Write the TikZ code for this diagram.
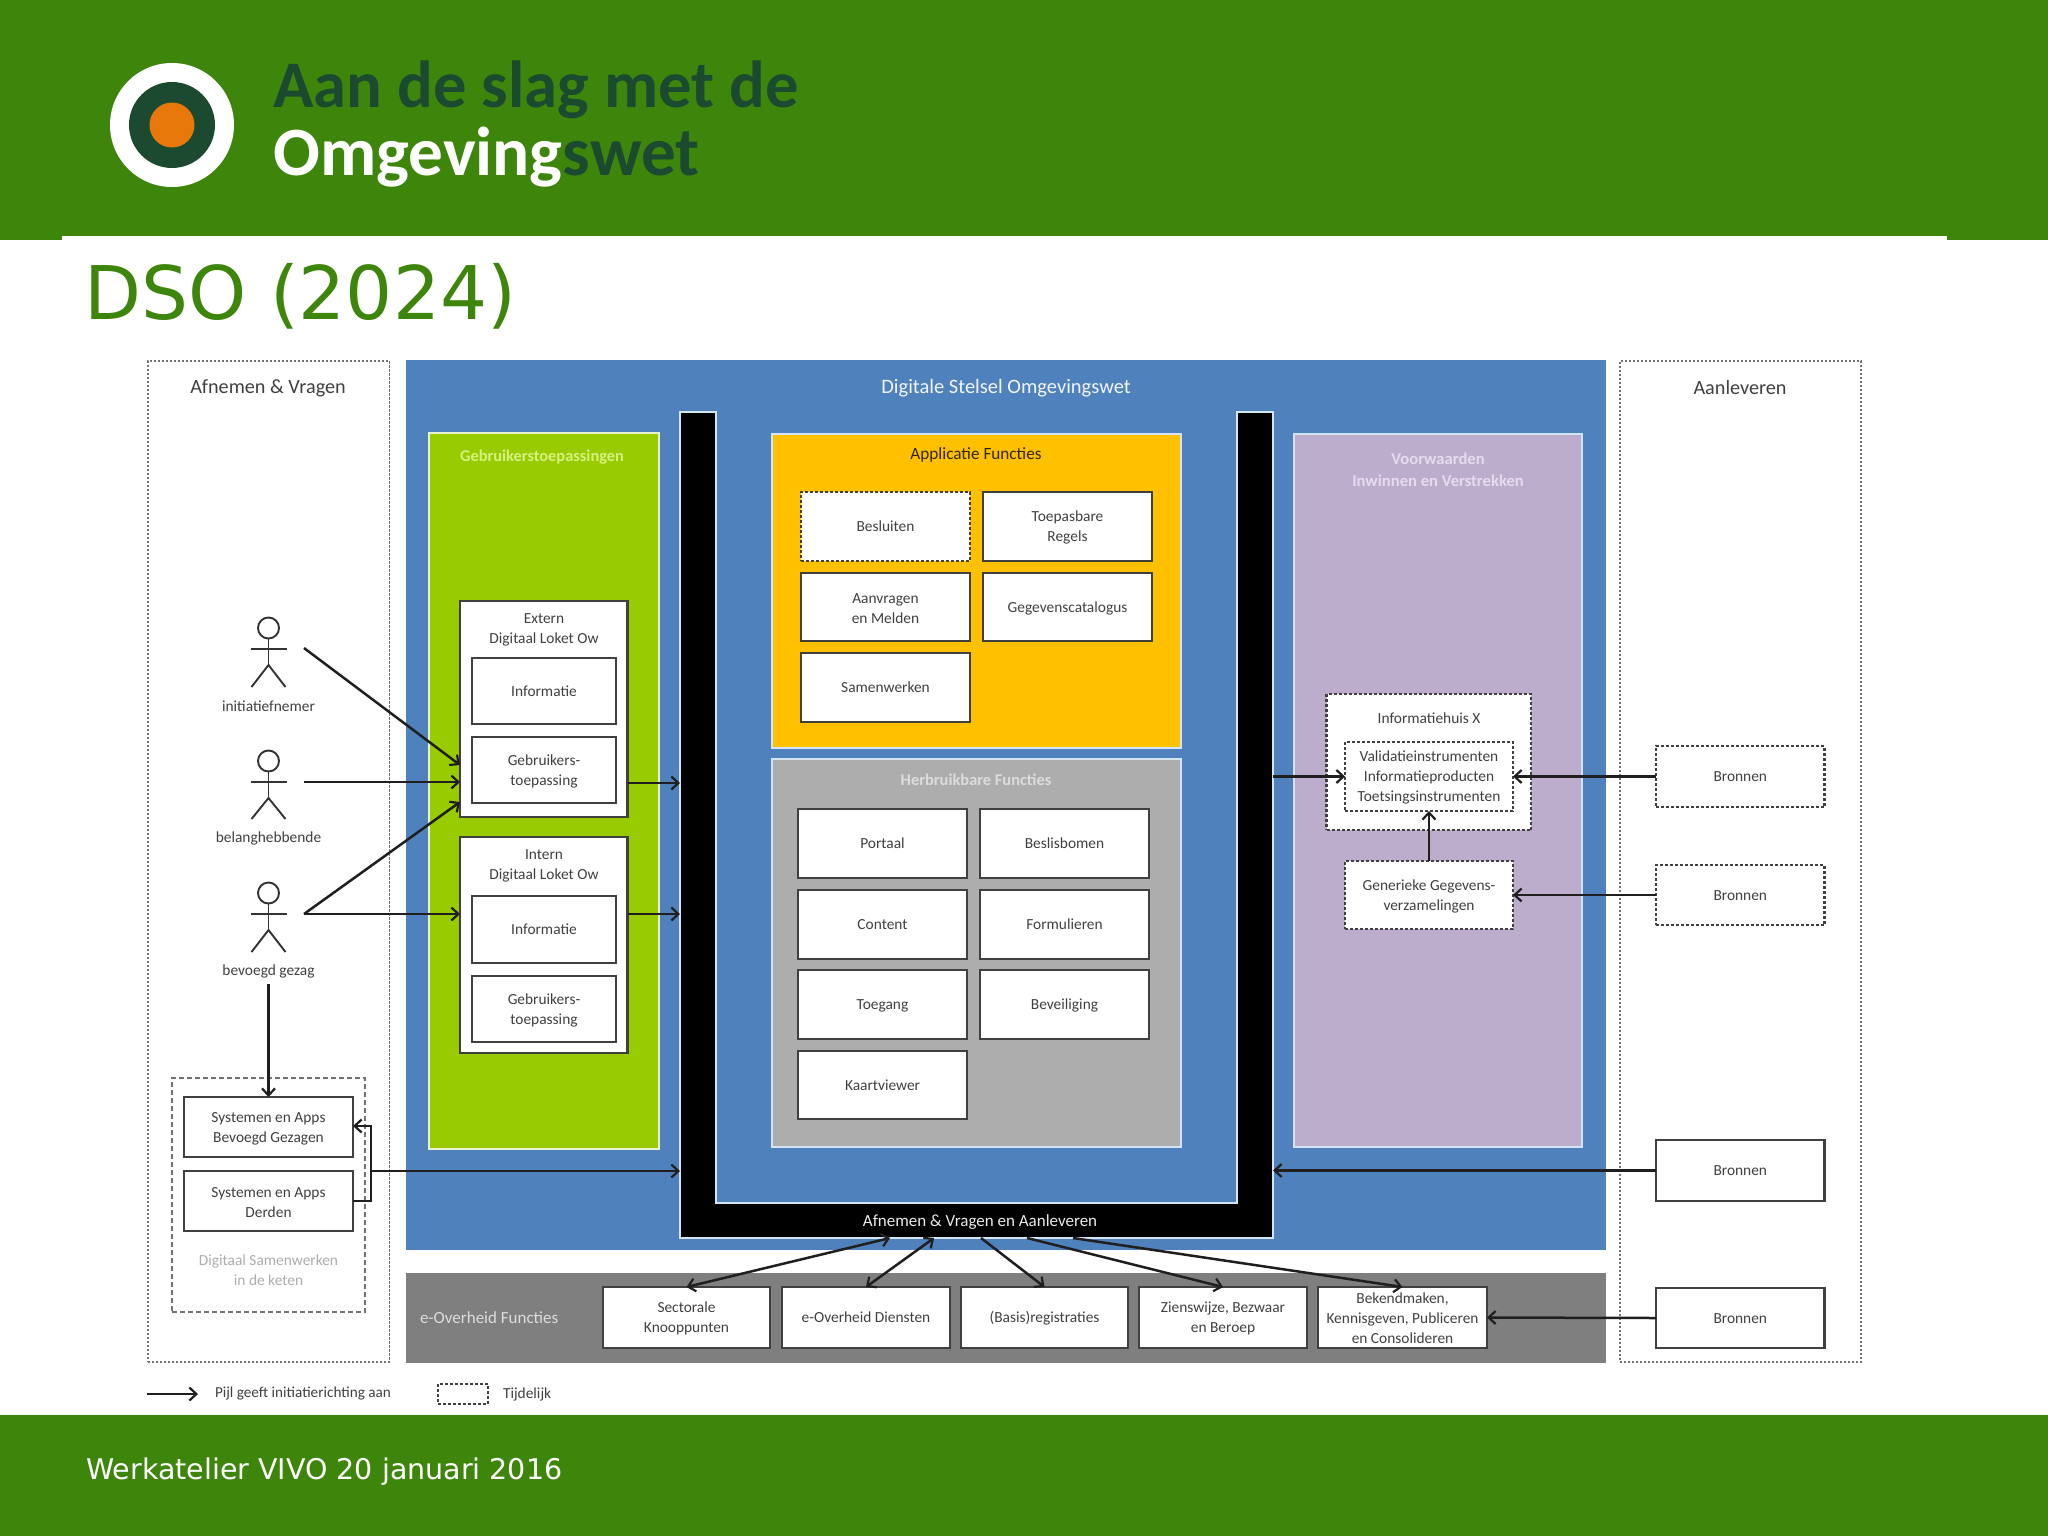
\documentclass[tikz,border=0pt]{standalone}
\usepackage{fontspec}
\setmainfont{Carlito}
\newfontfamily\dejafont{DejaVu Sans}
\usetikzlibrary{arrows.meta,calc}
\definecolor{hdrgreen}{HTML}{3D860B}
\definecolor{logodark}{HTML}{1C4A30}
\definecolor{logoorange}{HTML}{E8780A}
\definecolor{mainblue}{HTML}{4F81BD}
\definecolor{appgreen}{HTML}{99CC00}
\definecolor{appyellow}{HTML}{FFC000}
\definecolor{reusegrey}{HTML}{ADADAD}
\definecolor{lilac}{HTML}{BDADCD}
\definecolor{bandgrey}{HTML}{7F7F7F}
\definecolor{inkgrey}{HTML}{404040}
\definecolor{edgeblue}{HTML}{D2E4F6}
\definecolor{palegreen}{HTML}{D8F080}
\definecolor{palelilac}{HTML}{E4DCEE}
\definecolor{palegrey}{HTML}{DCDCDC}
\newcommand{\bx}[7]{\node[basebox,#6,minimum width={(#4-#2)*0.5pt},minimum height={(#5-#3)*0.5pt}] (#1) at ({(#2+#4)/2},{(#3+#5)/2}) {\rule[-1.5pt]{0pt}{8pt}#7};}
\newcommand{\actor}[5]{%
 \draw[stick] (#1,#2) circle (10.5);
 \draw[stick] (#1,#2+10.5) -- (#1,#4);
 \draw[stick] (#1-18,#3) -- (#1+18,#3);
 \draw[stick] (#1-17,#5) -- (#1,#4) -- (#1+17,#5);}
\tikzset{
 x=0.5pt,y=-0.5pt,
 basebox/.style={rectangle,inner sep=0pt,outer sep=0pt,align=center,font=\fontsize{7.7}{10}\selectfont,text=inkgrey},
 solidbox/.style={fill=white,draw=inkgrey,line width=1.25pt},
 tempbox/.style={fill=white,draw=inkgrey,line width=1.1pt,dash pattern=on 1.5pt off 1pt},
 sidepanel/.style={fill=white,draw=black!55,line width=0.8pt,dash pattern=on 1.2pt off 0.8pt},
 panel/.style={draw=edgeblue,line width=1.2pt},
 lbl/.style={inner sep=0pt,outer sep=0pt,align=center,font=\fontsize{7.7}{10}\selectfont,text=inkgrey},
 headlbl/.style={inner sep=0pt,outer sep=0pt,align=center,font=\fontsize{10.1}{12}\selectfont,text=inkgrey},
 flow/.style={draw=black!88,line width=1.25pt,-{Straight Barb[length=3.5pt,width=6.5pt,line width=1.1pt]}},
 flowboth/.style={draw=black!88,line width=1.25pt,{Straight Barb[length=3.5pt,width=6.5pt,line width=1.1pt]}-{Straight Barb[length=3.5pt,width=6.5pt,line width=1.1pt]}},
 stick/.style={draw=black!80,line width=0.95pt},
}
\begin{document}
\begin{tikzpicture}
\useasboundingbox (0,0) rectangle (2048,1536);
% header and footer
\fill[hdrgreen] (0,0) rectangle (2048,240);
\fill[white] (62,236) rectangle (1947,241);
\fill[hdrgreen] (0,1415) rectangle (2048,1536);
\fill[white] (172,125) circle (62);
\fill[logodark] (172,125) circle (43);
\fill[logoorange] (172,125) circle (22.5);
\node[anchor=base west,inner sep=0pt,text=logodark,font=\fontsize{33.3}{34}\bfseries\selectfont] (logoa) at (273,107) {Aan de slag met de};
\node[anchor=base west,inner sep=0pt,text=white,font=\fontsize{34.6}{35}\bfseries\selectfont] (logob) at (273,175) {Omgeving\textcolor{logodark}{swet}};
\node[anchor=base west,inner sep=0pt,text=hdrgreen,font=\dejafont\fontsize{37}{40}\selectfont] (title) at (84,319) {DSO (2024)};
\node[anchor=base west,inner sep=0pt,text=white,font=\dejafont\fontsize{14.25}{18}\selectfont] (footer) at (86,1479) {Werkatelier VIVO 20 januari 2016};

% side panels
\bx{afn}{148}{361}{389.5}{1362}{sidepanel}{}
\bx{aan}{1620}{361}{1861}{1362}{sidepanel}{}
\node[headlbl] (afnt) at (268,388) {Afnemen \& Vragen};
\node[headlbl] (aant) at (1740,388) {Aanleveren};

% blue platform
\bx{dso}{406}{360}{1606}{1250}{fill=mainblue}{}
\node[headlbl,text=white!92!mainblue,font=\fontsize{10.25}{12}\selectfont] (dsot) at (1006,388) {Digitale Stelsel Omgevingswet};

% black U band
\draw[edgeblue,line width=1pt,fill=black] (680,412) -- (716,412) -- (716,1203) -- (1237,1203) -- (1237,412) -- (1273,412) -- (1273,1238) -- (680,1238) -- cycle;
\node[inner sep=0pt,outer sep=0pt,minimum width=18pt,minimum height=413pt] (bandl) at (698,825) {};
\node[inner sep=0pt,outer sep=0pt,minimum width=18pt,minimum height=413pt] (bandr) at (1255,825) {};
\node[inner sep=0pt,outer sep=0pt,minimum width=296.5pt,minimum height=17.5pt] (bandb) at (976.5,1220.5) {};
\node[inner sep=0pt,outer sep=0pt,text=white!92!black,font=\fontsize{8.5}{10}\selectfont] (bandt) at (980,1222) {Afnemen \& Vragen en Aanleveren};

% green column
\bx{gbt}{429}{433}{659}{1149}{panel,draw=white!80!appgreen,fill=appgreen}{}
\node[lbl,text=palegreen,font=\bfseries\fontsize{8.2}{10}\selectfont] (gbtt) at (542,457) {Gebruikerstoepassingen};
\bx{ext}{460}{601}{627.5}{817}{solidbox}{}
\node[lbl] (extt) at (544,630) {Extern\\Digitaal Loket Ow};
\bx{info1}{472}{658}{616}{724}{solidbox}{Informatie}
\bx{geb1}{472}{737}{616}{803}{solidbox}{Gebruikers-\\toepassing}
\bx{int}{460}{837}{627.5}{1053}{solidbox}{}
\node[lbl] (intt) at (544,866) {Intern\\Digitaal Loket Ow};
\bx{info2}{472}{896}{616}{963}{solidbox}{Informatie}
\bx{geb2}{472}{976}{616}{1042}{solidbox}{Gebruikers-\\toepassing}

% applicatie functies
\bx{app}{772}{434}{1181}{748}{panel,fill=appyellow}{}
\node[lbl,text=black!80!appyellow,font=\fontsize{8.6}{10}\selectfont] (appt) at (976,455) {Applicatie Functies};
\bx{besl}{801}{492}{970}{561}{tempbox}{Besluiten}
\bx{toep}{983}{492}{1152}{561}{solidbox}{Toepasbare\\Regels}
\bx{aanv}{801}{573}{970}{641}{solidbox}{Aanvragen\\en Melden}
\bx{gcat}{983}{573}{1152}{641}{solidbox}{Gegevenscatalogus}
\bx{samw}{801}{653}{970}{722}{solidbox}{Samenwerken}

% herbruikbare functies
\bx{herb}{772}{759}{1181}{1147}{panel,fill=reusegrey}{}
\node[lbl,text=palegrey,font=\bfseries\fontsize{8.2}{10}\selectfont] (herbt) at (976,780) {Herbruikbare Functies};
\bx{port}{798}{809}{967}{878}{solidbox}{Portaal}
\bx{bbom}{980}{809}{1149}{878}{solidbox}{Beslisbomen}
\bx{cont}{798}{890}{967}{959}{solidbox}{Content}
\bx{form}{980}{890}{1149}{959}{solidbox}{Formulieren}
\bx{toeg}{798}{970}{967}{1039}{solidbox}{Toegang}
\bx{beve}{980}{970}{1149}{1039}{solidbox}{Beveiliging}
\bx{kaart}{798}{1051}{967}{1119}{solidbox}{Kaartviewer}

% voorwaarden
\bx{voor}{1294}{434}{1582}{1147}{panel,fill=lilac}{}
\node[lbl,text=palelilac,font=\bfseries\fontsize{8.3}{11}\selectfont] (voort) at (1438,470) {Voorwaarden\\Inwinnen en Verstrekken};
\bx{ihuis}{1326.5}{694}{1531}{830}{tempbox}{}
\node[lbl] (ihuist) at (1429,718) {Informatiehuis X};
\bx{ihin}{1345}{742}{1513}{811}{tempbox}{Validatieinstrumenten\\Informatieproducten\\Toetsingsinstrumenten}
\bx{gen}{1345}{861}{1513}{929}{tempbox}{Generieke Gegevens-\\verzamelingen}

% e-overheid
\bx{eov}{406}{1273}{1606}{1363}{fill=bandgrey}{}
\node[lbl,text=palegrey,anchor=west,font=\fontsize{8.5}{10}\selectfont] (eovt) at (420,1318) {e-Overheid Functies};
\bx{sect}{603}{1287}{770}{1348}{solidbox}{Sectorale\\Knooppunten}
\bx{edien}{782}{1287}{950}{1348}{solidbox}{e-Overheid Diensten}
\bx{basis}{961}{1287}{1128}{1348}{solidbox}{(Basis)registraties}
\bx{zien}{1139}{1287}{1307}{1348}{solidbox}{Zienswijze, Bezwaar\\en Beroep}
\bx{bek}{1318}{1287}{1487}{1348}{solidbox}{Bekendmaken,\\Kennisgeven, Publiceren\\en Consolideren}

% bronnen
\bx{bron1}{1656}{746}{1824.5}{807}{tempbox}{Bronnen}
\bx{bron2}{1656}{865}{1824.5}{925}{tempbox}{Bronnen}
\bx{bron3}{1656}{1140}{1824.5}{1201}{solidbox}{Bronnen}
\bx{bron4}{1656}{1288}{1824.5}{1348}{solidbox}{Bronnen}

% actors
\actor{268.5}{628}{649}{665}{687}
\node[lbl] (ainit) at (268.5,706) {initiatiefnemer};
\actor{268.5}{761}{782}{798}{819}
\node[lbl] (abel) at (268.5,838) {belanghebbende};
\actor{268.5}{893}{914}{930}{952}
\node[lbl] (abev) at (268.5,971) {bevoegd gezag};

% digitaal samenwerken
\bx{dsam}{172}{1078}{365}{1312}{draw=black!55,line width=1pt,dash pattern=on 2.5pt off 1.5pt,fill=white}{}
\bx{sys1}{184}{1097}{353}{1157}{solidbox}{Systemen en Apps\\Bevoegd Gezagen}
\bx{sys2}{184}{1171}{353}{1231}{solidbox}{Systemen en Apps\\Derden}
\node[lbl,text=black!32] (dsamt) at (268.5,1270) {Digitaal Samenwerken\\in de keten};

% connectors: actors to loket
\coordinate (fromi) at (304,648);
\coordinate (fromb) at (304,782);
\coordinate (fromg) at (304,914);
\draw[flow] (fromi) -- ($(ext.west)+(0,56)$);
\draw[flow] (fromb) -- ($(ext.west)+(0,73)$);
\draw[flow] (fromg) -- ($(ext.west)+(0,93)$);
\draw[flow] (fromg) -- (fromg -| int.west);
\draw[flow] ($(geb1.east -| ext.east)+(0,13)$) -- ($(geb1.east -| bandl.west)+(0,13)$);
\draw[flow] (fromg -| int.east) -- (fromg -| bandl.west);
\coordinate (abevb) at (268.5,984);
\draw[flow] (abevb) -- (sys1.north);
% systemen
\coordinate (jog) at (371,1201);
\coordinate (jogt) at (371,1126);
\draw[flow] (jog -| sys2.east) -- (jog) -- (jogt) -- (jogt -| sys1.east);
\coordinate (jogm) at (371,1171);
\draw[flow] (jogm) -- (jogm -| bandl.west);
% band to info huis etc
\draw[flow] (ihin.west -| bandr.east) -- (ihin.west);
\draw[flow] (bron1.west) -- (ihin.east);
\draw[flow] (gen.north) -- (ihin.south);
\draw[flow] (bron2.west) -- (gen.east);
\draw[flow] (bron3.west) -- (bron3.west -| bandr.east);
\draw[flow] (bron4.west) -- (bek.east);
% band to e-overheid
\draw[flowboth] ($(bandb.south)+(-86.5,0)$) -- (sect.north);
\draw[flowboth] ($(bandb.south)+(-42.5,0)$) -- (edien.north);
\draw[flow] ($(bandb.south)+(4.5,0)$) -- (basis.north);
\draw[flow] ($(bandb.south)+(50.5,0)$) -- (zien.north);
\draw[flow] ($(bandb.south)+(96.5,0)$) -- (bek.north);

% legend
\coordinate (legs) at (147,1394);
\coordinate (lege) at (198,1394);
\draw[flow] (legs) -- (lege);
\node[lbl,anchor=west,font=\fontsize{7.6}{9}\selectfont] (legt) at (215,1394) {Pijl geeft initiatierichting aan};
\bx{legb}{438}{1384}{488}{1404}{tempbox}{}
\node[lbl,anchor=west,font=\fontsize{7.7}{9}\selectfont] (legu) at (503,1394) {Tijdelijk};
\end{tikzpicture}
\end{document}
